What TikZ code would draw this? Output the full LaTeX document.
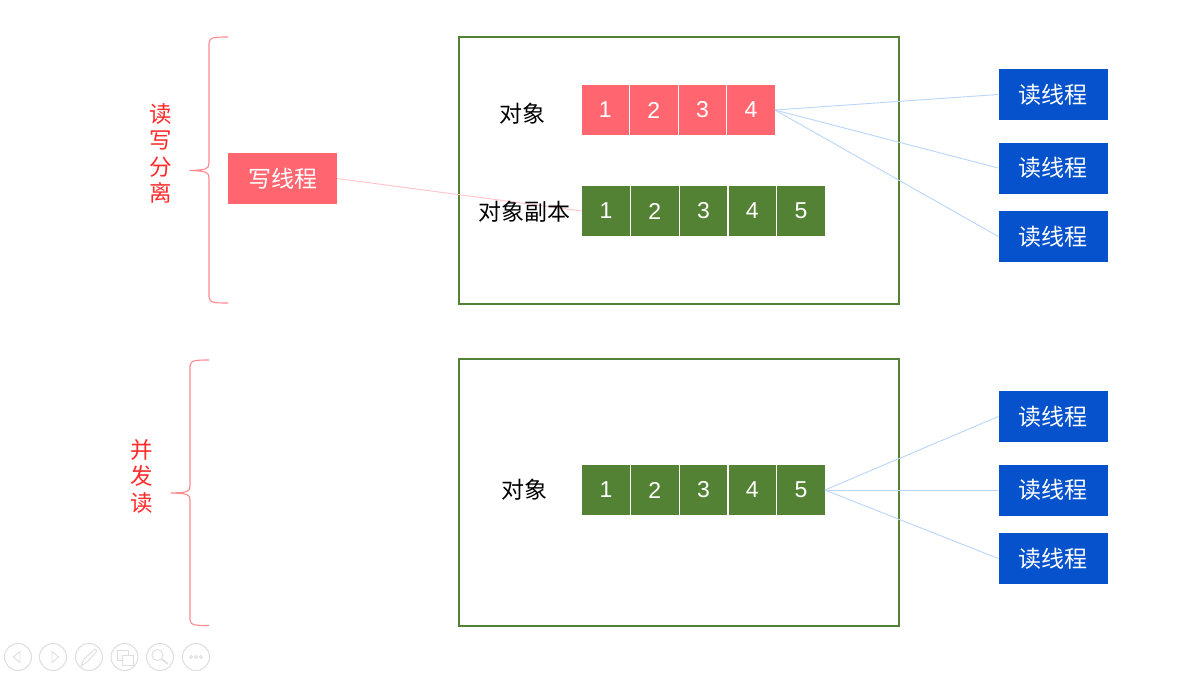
\documentclass[tikz,border=0pt]{standalone}
\usepackage{fontspec}
\setmainfont{Liberation Sans}
\newfontfamily\cjk{Noto Sans CJK SC}
\definecolor{cred}{HTML}{FF6670}
\definecolor{cgreen}{HTML}{548235}
\definecolor{cblue}{HTML}{0652CC}
\definecolor{lblue}{HTML}{BAD6FA}
\definecolor{lpink}{HTML}{FFC4CA}
\definecolor{bracec}{HTML}{FF8A90}
\definecolor{tred}{HTML}{FF2A2A}
\definecolor{icon}{HTML}{DEDEDE}
\tikzset{
  x=1pt,y=-1pt,
  cell/.style={minimum width=47.4pt,minimum height=50pt,inner sep=0pt,text=white,font=\fontsize{23}{23}\selectfont,anchor=center},
  redcell/.style={cell,fill=cred},
  greencell/.style={cell,fill=cgreen},
  thread/.style={minimum width=109pt,minimum height=51pt,inner sep=0pt,text=white,font=\cjk\fontsize{23}{23}\selectfont},
  readthread/.style={thread,fill=cblue},
  writethread/.style={thread,fill=cred},
  frameb/.style={draw=cgreen,line width=2pt,fill=white,minimum width=440pt,minimum height=267pt,inner sep=0pt},
  lab/.style={text=black,inner sep=0pt,font=\cjk\fontsize{23}{23}\selectfont},
  side/.style={text=tred,inner sep=0pt,align=center,font=\cjk\fontsize{22.5}{26.5}\selectfont},
  rlink/.style={draw=lblue,line width=0.9pt},
  wlink/.style={draw=lpink,line width=0.9pt},
  bracel/.style={draw=bracec,line width=1.1pt,line join=round},
  toolc/.style={draw=icon,line width=1pt,circle,minimum size=27pt,inner sep=0pt},
  toolg/.style={draw=icon,line width=0.9pt,line join=round}
}
\begin{document}
\begin{tikzpicture}
\useasboundingbox (0,0) rectangle (1200,675);
\fill[white] (0,0) rectangle (1200,675);
% frames
\node[frameb] (f1) at (679,170) {};
\node[frameb] (f2) at (679,492.5) {};
% red row
\node[redcell] (r1) at (605.2,110) {1};
\node[redcell] (r2) at (653.8,110) {2};
\node[redcell] (r3) at (702.4,110) {3};
\node[redcell] (r4) at (751,110) {4};
% green row
\node[greencell] (g1) at (606,211) {1};
\node[greencell] (g2) at (654.8,211) {2};
\node[greencell] (g3) at (703.5,211) {3};
\node[greencell] (g4) at (752.3,211) {4};
\node[greencell] (g5) at (801,211) {5};
% lower row
\node[greencell] (h1) at (606,490) {1};
\node[greencell] (h2) at (654.8,490) {2};
\node[greencell] (h3) at (703.5,490) {3};
\node[greencell] (h4) at (752.3,490) {4};
\node[greencell] (h5) at (801,490) {5};
% threads
\node[writethread] (w) at (282.5,178.5) {写线程};
\node[readthread] (a1) at (1053,94.5) {读线程};
\node[readthread] (a2) at (1053,168) {读线程};
\node[readthread] (a3) at (1053,236.5) {读线程};
\node[readthread] (b1) at (1053,416.5) {读线程};
\node[readthread] (b2) at (1053,490) {读线程};
\node[readthread] (b3) at (1053,558.5) {读线程};
% connectors
\draw[wlink] (w.east) -- (g1.west);
\draw[rlink] (r4.east) -- (a1.west);
\draw[rlink] (r4.east) -- (a2.west);
\draw[rlink] (r4.east) -- (a3.west);
\draw[rlink] (h5.east) -- (b1.west);
\draw[rlink] (h5.east) -- (b2.west);
\draw[rlink] (h5.east) -- (b3.west);
% labels
\node[lab] (t1) at (522,114) {对象};
\node[lab] (t2) at (524.5,212) {对象副本};
\node[lab] (t3) at (524.5,490) {对象};
\node[side] (s1) at (160.5,153.5) {读\\写\\分\\离};
\node[side] (s2) at (142,476) {并\\发\\读};
% braces
\draw[bracel] (228,37) .. controls (216,37) and (209,37) .. (209,43)
  -- (209,163) .. controls (209,169) and (206,170) .. (190,170.5)
  .. controls (206,171) and (209,172) .. (209,178)
  -- (209,297) .. controls (209,303) and (216,303) .. (228,303);
\draw[bracel] (209,360) .. controls (197,360) and (190,360) .. (190,366)
  -- (190,486) .. controls (190,492) and (187,492.5) .. (171,493)
  .. controls (187,493.5) and (190,494) .. (190,500)
  -- (190,620) .. controls (190,625.5) and (197,625.5) .. (209,625.5);
% slide-show toolbar
\node[toolc] (c1) at (18,657) {};
\node[toolc] (c2) at (53,657) {};
\node[toolc] (c3) at (89,657) {};
\node[toolc] (c4) at (124.5,657) {};
\node[toolc] (c5) at (160,657) {};
\node[toolc] (c6) at (196,657) {};
\draw[toolg] (13.5,657) -- (20,651.5) -- (20,662.5) -- cycle;
\draw[toolg] (58.5,657) -- (52,651.5) -- (52,662.5) -- cycle;
\draw[toolg] (81,666) -- (84,659) -- (95,649) -- (97,651) -- (87,662) -- cycle;
\draw[toolg] (117,650) rectangle (128,660);
\draw[toolg,fill=white] (122,655) rectangle (133,665);
\draw[toolg] (157.5,655) circle (5.5pt);
\draw[toolg,line width=1.6pt] (161.5,659) -- (168,664);
\draw[toolg] (191,657) circle (1.6pt) (196,657) circle (1.6pt) (201,657) circle (1.6pt);
\end{tikzpicture}
\end{document}
